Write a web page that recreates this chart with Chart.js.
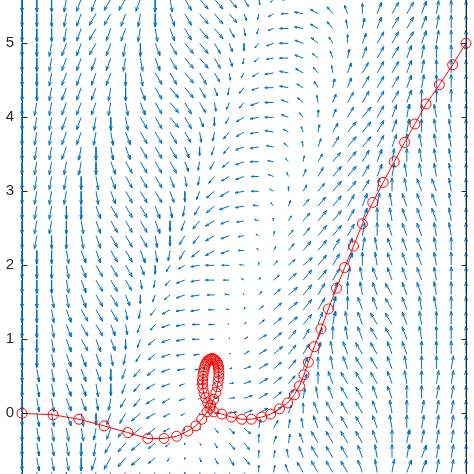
<!DOCTYPE html>
<html>
<head>
<meta charset="utf-8">
<title>Vector field with trajectory</title>
<script src="https://cdn.jsdelivr.net/npm/chart.js@4.4.1/dist/chart.umd.min.js"></script>
<style>
  html, body { margin: 0; padding: 0; background: #fff; }
  #wrap { width: 474px; height: 474px; }
</style>
</head>
<body>
<div id="wrap"><canvas id="chart" width="474" height="474"></canvas></div>
<script>
// arrow grid (data units)
const gridX = [-3.0, -2.8, -2.6, -2.4, -2.2, -2.0, -1.8, -1.6, -1.4, -1.2, -1.0, -0.8, -0.6, -0.4, -0.2, 0.0,
  0.2, 0.4, 0.6, 0.8, 1.0, 1.2, 1.4, 1.6, 1.8, 2.0, 2.2, 2.4, 2.6, 2.8, 3.0];
const gridY = [5.6, 5.4, 5.2, 5.0, 4.8, 4.6, 4.4, 4.2, 4.0, 3.8, 3.6, 3.4, 3.2, 3.0, 2.8, 2.6, 2.4,
  2.2, 2.0, 1.8, 1.6, 1.4, 1.2, 1.0, 0.8, 0.6, 0.4, 0.2, 0.0, -0.2, -0.4, -0.6, -0.8];

// one char per arrow, direction in 10 degree steps: 0 = east, 9 = north, i = west, r = south
const fieldAngle = [
  'rrrqppooprsuvvvusnjhgec98767899',
  'rrrqpoopqrtuvvvtqlihfdb97667899',
  'rrrqpoppqstuvvuspkihfda87667899',
  'rrqppopqrtuvvutrnkigec976667899',
  'rrqppppqstuvvutqmjigeb876678999',
  'rrqpppprsuuvuusoljhfda766678999',
  'rrqpppqrtuvvutqnkihfc8766678999',
  'rqqpppqstuvuuspnkigea7666679999',
  'rqqppqrsuuvutroljigd97656789aa9',
  'rqqppqstuuuusqnljhfb86556789aa9',
  'rqqpqrstuuutrpnkjhea7655679aaa9',
  'rqqqqrtuuuutqomkihd86556789aaa9',
  'rqqqrstuuutsqnlkigb7655678aaaa9',
  'rqqqrstuuutrpmljif96555689abba9',
  'rqqrrtuuutsqomkjhd7555678abbba9',
  'rqqrstuuutrpnlkjga6555679abbba9',
  'rqrrstuuusronlkjf85555689bbbaa9',
  'rrrsttuutsqomlkid6555678abbba99',
  'rrrstuuutroljiih95445679abbba99',
  'rrrstuuusqnkjiif6445568abbbba99',
  'rrsstuutrpmkjihb5445679abcbba99',
  'rrstuuusqnljjih74445689bbcbaa99',
  'rrstuutspnkjiif5444578abccba999',
  'rrstuttrpmkjii93345679abccba999',
  'rrstttsqomkjji3334568abccbb9999',
  'rsstttrpnmkjji2234579abccba9989',
  'rssttsrpnlkkj11234579bcccba9889',
  'rssttsqonllkk0123468abccbb99889',
  'rsstsrpomlllr0123479bcccba98889',
  'rssssqpnmmlquvvw868abcccba98889',
  'rsssrqonmmmruuvv978bccccb988889',
  'rsssrponmmnrtuuv98abcccba987889',
  'rssrqponnnprtuuv98bccccba877889',
];

// one digit per arrow, relative length (9 = longest)
const fieldLength = [
  '9999999999999986434666667999999',
  '9999999999999985445666678999999',
  '9999999999999975446666678999999',
  '9999999999999865456665679999999',
  '9999999999999864456655689999999',
  '9999999999999754566655789999999',
  '9999999999998655566556799999999',
  '9999999999998655665556899999999',
  '9999999999997656665456899999999',
  '9999999999987666664457999999999',
  '9999999999986666654468999999999',
  '9999999999976666643468999999999',
  '9999999999876666543579999999999',
  '9999999999876776533579999999999',
  '9999999999877776434689999999999',
  '9999999999777765324799999999999',
  '9999999998777764235799999999999',
  '9999999998777764236899999999999',
  '9999999976556653246899999999999',
  '9999999865566642257999999999999',
  '9999999865566531368999999999999',
  '9999999765666422478999999999999',
  '9999998765665412578999999999999',
  '9999998766665313678889999999999',
  '9999998766664214688889999999999',
  '9999998777653125778889999999999',
  '9999998777642135777789999999999',
  '9999988777641246777789999999999',
  '9999988887531356776789999999999',
  '9999988887521456666799999999999',
  '9999998886412466656799999999999',
  '9999999886313566556899999999999',
  '9999999975324666556899999999999',
];

// red trajectory (circle markers)
const trajX = [-3.00, -2.58, -2.23, -1.89, -1.57, -1.30, -1.08, -0.91, -0.76, -0.65, -0.57, -0.50,
  -0.45, -0.41, -0.38, -0.36, -0.35, -0.34, -0.34, -0.34, -0.345, -0.35, -0.36, -0.375, -0.39, -0.41,
  -0.43, -0.45, -0.47, -0.49, -0.505, -0.52, -0.53, -0.54, -0.55, -0.555, -0.56, -0.56, -0.555,
  -0.54, -0.52, -0.49, -0.46, -0.41,
  -0.30, -0.17, -0.03, 0.10, 0.24, 0.36, 0.48, 0.59, 0.68, 0.75, 0.81, 0.87, 0.95, 1.04,
  1.14, 1.25, 1.36, 1.48, 1.60, 1.74, 1.88, 2.03, 2.17, 2.31, 2.46, 2.64, 2.82, 3.00];
const trajY = [0.00, -0.02, -0.08, -0.17, -0.26, -0.34, -0.34, -0.31, -0.24, -0.17, -0.08, 0.02,
  0.11, 0.19, 0.28, 0.36, 0.43, 0.49, 0.54, 0.58, 0.62, 0.65, 0.68, 0.70, 0.72, 0.73,
  0.74, 0.735, 0.725, 0.71, 0.69, 0.66, 0.63, 0.59, 0.55, 0.50, 0.45, 0.40, 0.34,
  0.27, 0.21, 0.14, 0.07, 0.02,
  -0.01, -0.05, -0.08, -0.08, -0.05, -0.01, 0.06, 0.14, 0.25, 0.37, 0.52, 0.69, 0.90, 1.14,
  1.41, 1.69, 1.97, 2.26, 2.56, 2.85, 3.12, 3.40, 3.66, 3.91, 4.18, 4.44, 4.71, 5.00];

const yTicks = [0, 1, 2, 3, 4, 5];

(function () {
  const ANGLE_CODES = '0123456789abcdefghijklmnopqrstuvwxyz';
  const ARROW_MAX = 0.18;
  const Y_MIN = -0.82;
  const Y_MAX = 5.585;
  const AXIS_COLOR = '#262626';
  const ARROW_COLOR = '#0072bd';

  // every arrow = shaft + two head strokes, split with null gaps
  function quiverPoints() {
    const pts = [];
    gridY.forEach((y, r) => {
      const angRow = fieldAngle[r] || '';
      const lenRow = fieldLength[r] || '';
      gridX.forEach((x, c) => {
        const code = ANGLE_CODES.indexOf(angRow[c]);
        const len = Number(lenRow[c] || 0) / 9 * ARROW_MAX;
        if (code < 0 || !len) return;
        const a = code * Math.PI / 18;
        const dx = Math.cos(a);
        const dy = Math.sin(a);
        const tx = x + dx * len;
        const ty = y + dy * len;
        const bx = tx - dx * len * 0.32;
        const by = ty - dy * len * 0.32;
        const w = len * 0.11;
        pts.push(
          { x: x, y: y }, { x: tx, y: ty }, { x: tx, y: null },
          { x: bx - dy * w, y: by + dx * w }, { x: tx, y: ty }, { x: bx + dy * w, y: by - dx * w },
          { x: tx, y: null }
        );
      });
    });
    return pts;
  }

  const frame = {
    id: 'frame',
    afterDraw(chart) {
      const { ctx, chartArea, scales } = chart;
      const right = Math.round(chartArea.right) + 0.5;
      const left = Math.round(chartArea.left) + 0.5;
      ctx.save();
      ctx.strokeStyle = AXIS_COLOR;
      ctx.lineWidth = 1;
      ctx.beginPath();
      ctx.moveTo(right, chartArea.top);
      ctx.lineTo(right, chartArea.bottom);
      yTicks.forEach((v) => {
        const py = Math.round(scales.y.getPixelForValue(v)) + 0.5;
        ctx.moveTo(left, py);
        ctx.lineTo(left + 5, py);
        ctx.moveTo(right - 5, py);
        ctx.lineTo(right, py);
      });
      ctx.stroke();
      ctx.restore();
    },
  };

  new Chart(document.getElementById('chart'), {
    type: 'line',
    data: {
      datasets: [
        {
          label: 'trajectory',
          data: trajX.map((x, i) => ({ x: x, y: trajY[i] })),
          borderColor: '#ff0000',
          borderWidth: 1,
          pointStyle: 'circle',
          pointRadius: 5,
          pointBorderWidth: 1,
          pointBorderColor: '#ff0000',
          pointBackgroundColor: 'rgba(0,0,0,0)',
          tension: 0,
          clip: false,
          order: 0,
        },
        {
          label: 'field',
          data: quiverPoints(),
          borderColor: ARROW_COLOR,
          borderWidth: 1,
          pointRadius: 0,
          spanGaps: false,
          tension: 0,
          clip: false,
          order: 1,
        },
      ],
    },
    options: {
      responsive: false,
      animation: false,
      devicePixelRatio: 1,
      layout: { autoPadding: false, padding: { left: 0, right: 8, top: 0, bottom: 0 } },
      plugins: {
        legend: { display: false },
        tooltip: { enabled: false },
      },
      scales: {
        x: { type: 'linear', min: -3, max: 3, display: false },
        y: {
          type: 'linear',
          min: Y_MIN,
          max: Y_MAX,
          afterBuildTicks: (scale) => { scale.ticks = yTicks.map((v) => ({ value: v })); },
          afterFit: (scale) => {
            scale.width = 22;
            scale.paddingTop = 0;
            scale.paddingBottom = 0;
          },
          grid: { display: false, drawTicks: false },
          border: { display: true, color: AXIS_COLOR, width: 1 },
          ticks: {
            padding: 8,
            color: AXIS_COLOR,
            font: { family: 'Liberation Sans, Arial, sans-serif', size: 15 },
            callback: (v) => String(v),
          },
        },
      },
    },
    plugins: [frame],
  });
})();
</script>
</body>
</html>
